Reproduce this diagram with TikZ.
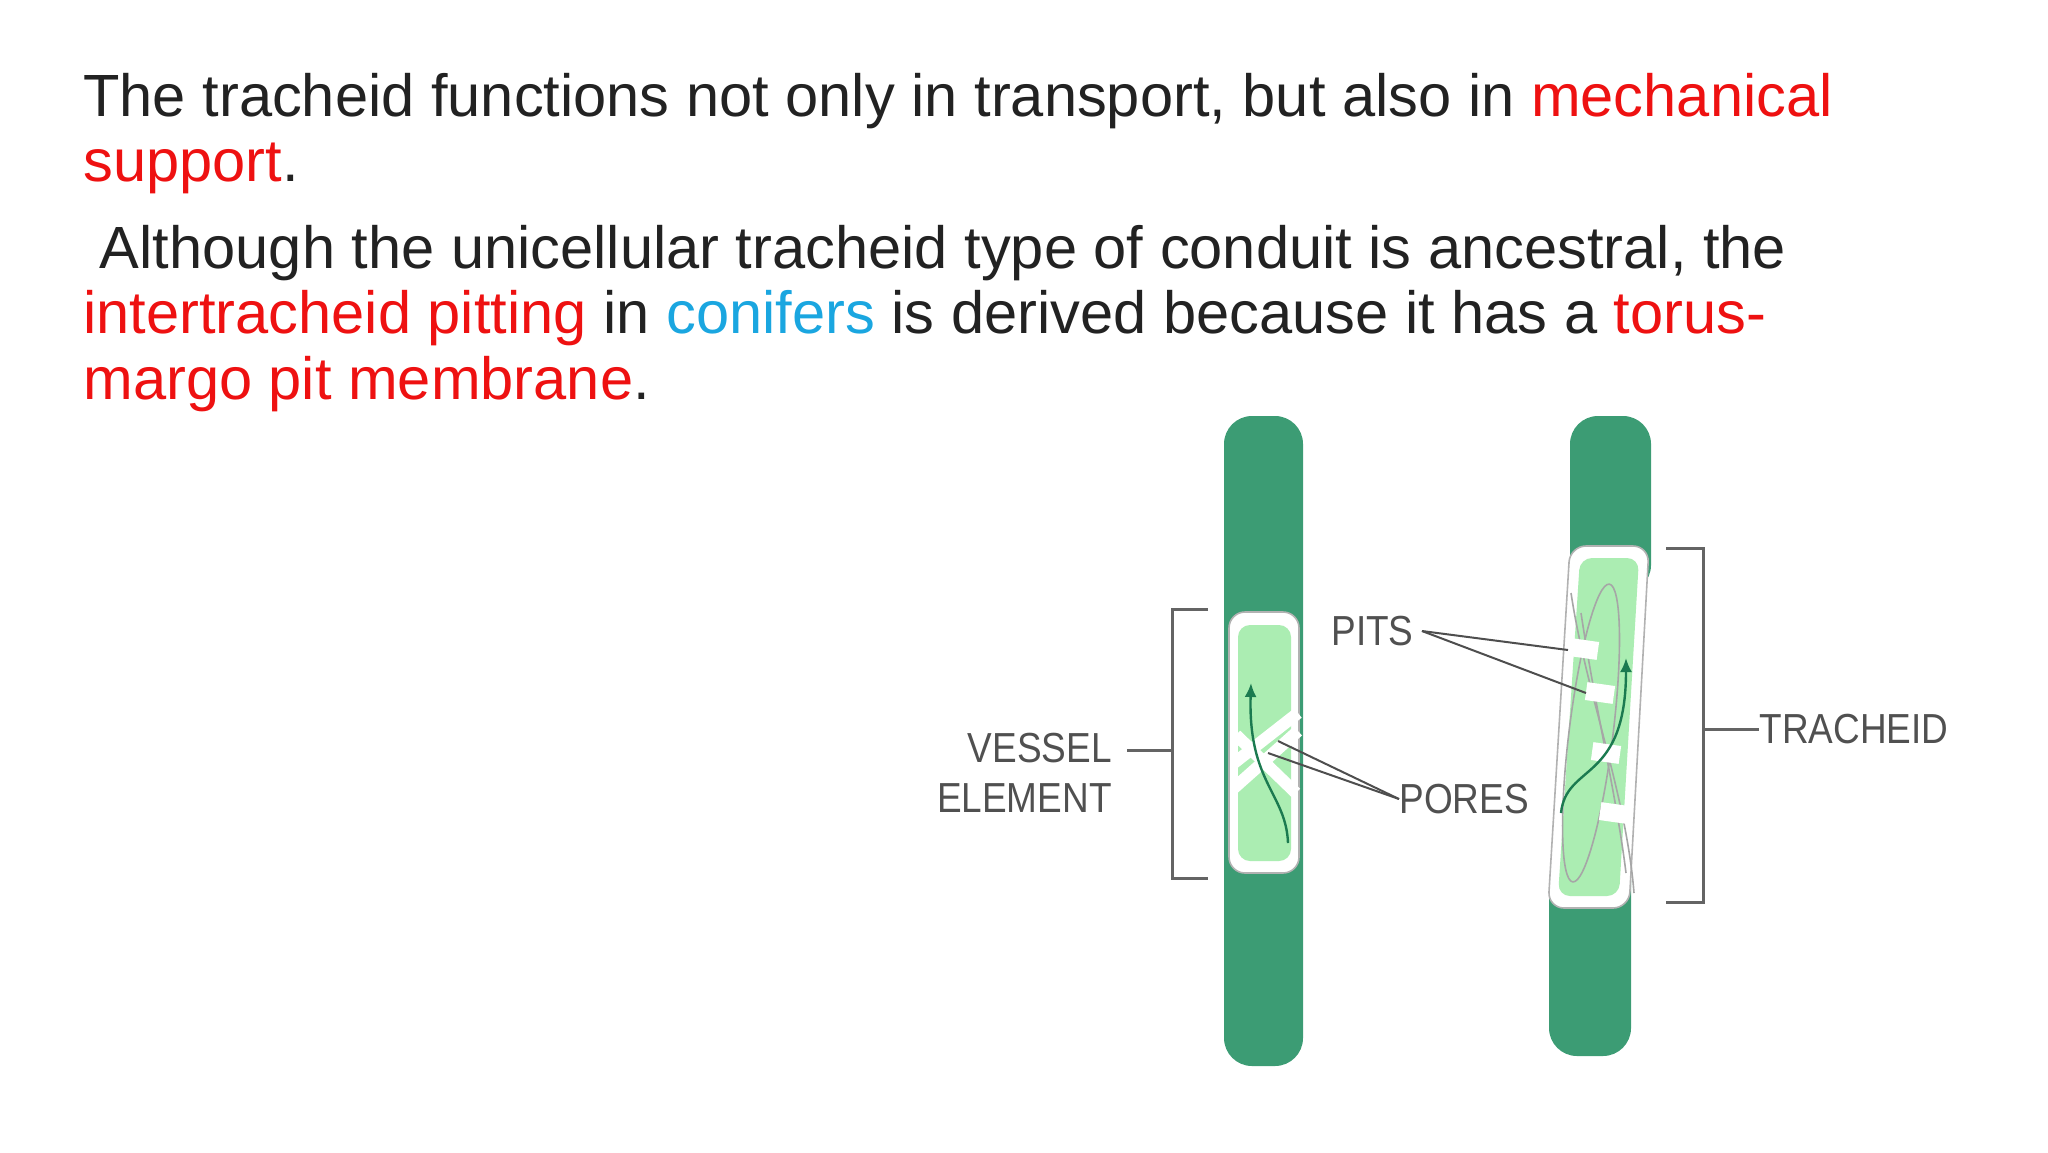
\documentclass[tikz,border=0pt]{standalone}
\usepackage{fontspec}
\setmainfont{Liberation Sans}
\usetikzlibrary{arrows.meta}
\definecolor{dg}{HTML}{3C9C74}
\definecolor{lg}{HTML}{ABEDB2}
\definecolor{ag}{HTML}{1B7A50}
\definecolor{tx}{HTML}{222222}
\definecolor{rd}{HTML}{EE1111}
\definecolor{bl}{HTML}{1AA6E0}
\definecolor{lbl}{HTML}{505050}
\tikzset{
 body/.style={font=\fontsize{29.8}{33}\selectfont, text=tx, anchor=base west, inner sep=0pt},
 lab/.style={font=\fontsize{21}{24}\selectfont\addfontfeature{FakeStretch=0.88}, text=lbl, inner sep=0pt},
 col/.style={fill=dg, rounded corners=14pt},
 cell/.style={fill=white, draw=gray!60, line width=0.8pt, rounded corners=8pt},
 inner/.style={fill=lg, rounded corners=6pt},
 ptr/.style={draw=tx!80, line width=1pt},
 brk/.style={draw=tx!70, line width=1.5pt},
 flow/.style={draw=ag, line width=1.2pt, -{Latex[length=7pt,width=6pt]}}
}
\begin{document}
\begin{tikzpicture}[x=0.5pt,y=-0.5pt]
\useasboundingbox (0,0) rectangle (2048,1152);
% text
\node[body] (l1) at (83,116) {The tracheid functions not only in transport, but also in \textcolor{rd}{mechanical}};
\node[body] (l2) at (83,181) {\textcolor{rd}{support}.};
\node[body] (l3) at (83,268) {\ Although the unicellular tracheid type of conduit is ancestral, the};
\node[body] (l4) at (83,333) {\textcolor{rd}{intertracheid pitting} in \textcolor{bl}{conifers} is derived because it has a \textcolor{rd}{torus-}};
\node[body] (l5) at (83,399) {\textcolor{rd}{margo pit membrane}.};
\begin{scope}[shift={(-14,-7)}]
% vessel column
\fill[col] (1238,423) rectangle (1317,1073);
\path[cell] (1243,619) rectangle (1313,880);
\fill[inner] (1252,632) rectangle (1305,868);
\draw[white, line width=6pt] (1248,795) -- (1312,738);
\draw[white, line width=6pt] (1248,770) -- (1312,720);
\draw[white, line width=6pt] (1250,742) -- (1310,800);
\draw[flow] (1302,850) .. controls (1300,800) and (1262,790) .. (1265,690);
% tracheid column
\fill[col] (1584,423) rectangle (1665,600);
\fill[col] (1563,860) rectangle (1645,1063);
\path[cell] (1584,553) -- (1663,553) -- (1643,915) -- (1562,915) -- cycle;
\fill[inner] (1594,565) -- (1653,565) -- (1633,903) -- (1572,903) -- cycle;
\draw[gray!70, line width=0.8pt, rotate around={-7:(1605,740)}] (1605,740) ellipse (22 and 150);
\draw[gray!70, line width=0.8pt] (1585,600) .. controls (1600,700) and (1640,800) .. (1648,900);
\draw[gray!70, line width=0.8pt] (1595,620) .. controls (1610,720) and (1630,800) .. (1640,880);
\foreach \p in {(1598,656),(1614,700),(1620,760),(1628,820)}
  \fill[white, rotate around={-8:\p}] \p ++(-14,-9) rectangle ++(28,18);
\draw[flow] (1575,820) .. controls (1580,770) and (1640,790) .. (1640,665);
% brackets
\draw[brk] (1222,616) -- (1186,616) -- (1186,885) -- (1222,885);
\draw[brk] (1680,555) -- (1717,555) -- (1717,909) -- (1680,909);
% labels
\node[lab, anchor=east, align=right] (ve) at (1126,780) {VESSEL\\[1pt]ELEMENT};
\node[lab, anchor=west] (po) at (1413,806) {PORES};
\node[lab, anchor=west] (pi) at (1345,638) {PITS};
\node[lab, anchor=west] (tr) at (1773,736) {TRACHEID};
\coordinate (vt) at (1186,757);
\coordinate (tt) at (1717,736);
\draw[brk] (1141,757) -- (vt);
\draw[brk] (tt) -- (tr.west);
\coordinate (p1) at (1282,760);
\coordinate (p2) at (1292,748);
\draw[ptr] (po.west) -- (p1);
\draw[ptr] (po.west) -- (p2);
\coordinate (q1) at (1582,657);
\coordinate (q2) at (1600,700);
\draw[ptr] (pi.east) ++(8,0) -- (q1);
\draw[ptr] (pi.east) ++(8,0) -- (q2);
\end{scope}
\end{tikzpicture}
\end{document}
